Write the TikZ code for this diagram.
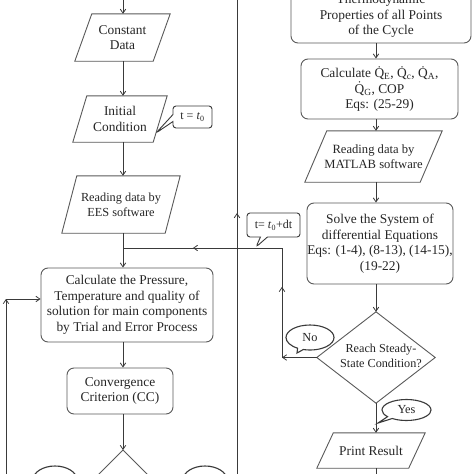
\documentclass[tikz,border=0pt]{standalone}
\usepackage{fontspec}
\setmainfont{Liberation Serif}
\usetikzlibrary{arrows.meta,shapes.callouts,shapes.geometric,decorations.markings,calc}
\definecolor{lnc}{HTML}{3A3A3A}
\definecolor{bxc}{HTML}{5A5A5A}
\definecolor{txc}{HTML}{262626}
\newcommand\pgram[2]{\draw[bxl] ([xshift=-#2]#1.south west) -- ([xshift=#2]#1.north west) -- ([xshift=#2]#1.north east) -- ([xshift=-#2]#1.south east) -- cycle;}
\begin{document}
\begin{tikzpicture}[x=1pt,y=-1pt,
 bxl/.style={draw=bxc, line width=0.9pt},
 ln/.style={draw=lnc, line width=0.8pt},
 arr/.style={ln, -{Straight Barb[length=4pt,width=5.5pt]}},
 midarr/.style={ln, postaction={decorate}, decoration={markings, mark=at position #1 with {\arrow{Straight Barb[length=4pt,width=5.5pt]}}}},
 txt/.style={align=center, font=\fontsize{13.4}{15.5}\selectfont, text=txc, inner sep=0pt},
 smalltxt/.style={font=\fontsize{12.3}{15}\selectfont},
 rbox/.style={txt, bxl, rounded corners=7pt},
 rcall/.style={rectangle callout, draw=lnc, line width=0.9pt, rounded corners=3pt, txt, font=\fontsize{12}{14}\selectfont},
 ecall/.style={ellipse callout, draw=lnc, line width=1.1pt, txt, font=\fontsize{12.3}{14}\selectfont},
]
\useasboundingbox (0,0) rectangle (474,474);
\fill[white] (0,0) rectangle (474,474);
\clip (0,0) rectangle (474,474);

\coordinate (colL) at (123,0);
\coordinate (colR) at (376,0);

% left column
\node[txt, minimum width=78pt, minimum height=47pt] (cd) at (122.5,37.5) {Constant\\Data};
\pgram{cd}{8.5pt}
\node[txt, minimum width=80pt, minimum height=46pt] (ic) at (120,119) {Initial\\Condition};
\pgram{ic}{7pt}
\node[txt, smalltxt, minimum width=103pt, minimum height=57pt] (ees) at (121,204.5) {Reading data by\\EES software};
\pgram{ees}{7.5pt}
\node[rbox, minimum width=172pt, minimum height=74pt] (calc) at (127,305) {Calculate the Pressure,\\Temperature and quality of\\solution for main components\\by Trial and Error Process};
\node[rbox, minimum width=106pt, minimum height=46pt] (conv) at (120,391) {Convergence\\Criterion (CC)};
\coordinate (dtop) at (123,450);
\coordinate (dl) at (96,477);
\coordinate (dr) at (150,477);
\draw[bxl] (dl) -- (dtop) -- (dr);
\node[draw=lnc, line width=1.1pt, ellipse, minimum width=44pt, minimum height=28pt] (e1) at (55,480) {};
\node[draw=lnc, line width=1.1pt, ellipse, minimum width=44pt, minimum height=28pt] (e2) at (205,480) {};

% right column
\node[rbox, minimum width=180pt, minimum height=54pt] (thermo) at (381,16) {Thermodynamic\\Properties of all Points\\of the Cycle};
\node[rbox, minimum width=157pt, minimum height=60pt] (calcq) at (379.5,89) {Calculate \.{Q}\textsubscript{E}, \.{Q}\textsubscript{c}, \.{Q}\textsubscript{A},\\\.{Q}\textsubscript{G}, COP\\Eqs: (25-29)};
\node[txt, font=\fontsize{12.6}{15}\selectfont, minimum width=115pt, minimum height=51pt] (matlab) at (373.5,156.5) {Reading data by\\MATLAB software};
\pgram{matlab}{11pt}
\node[rbox, minimum width=146pt, minimum height=81pt] (solve) at (380,243.5) {Solve the System of\\differential Equations\\Eqs: (1-4), (8-13), (14-15),\\(19-22)};
\node[minimum width=118pt, minimum height=91pt, inner sep=0pt] (dia) at (376,357.5) {};
\draw[bxl] (dia.north) -- (dia.east) -- (dia.south) -- (dia.west) -- cycle;
\node[txt, font=\fontsize{12.2}{15}\selectfont] (diat) at (381,356) {Reach Steady-\\State Condition?};
\node[txt, minimum width=91.5pt, minimum height=35pt] (print) at (371,450.5) {Print Result};
\pgram{print}{8.25pt}
\coordinate (pend) at (376,476);

% connectors left
\draw[arr] (colL) -- (colL |- cd.north);
\draw[arr] (colL |- cd.south) -- (colL |- ic.north);
\draw[arr] (colL |- ic.south) -- (colL |- ees.north);
\draw[arr] (colL |- ees.south) -- (colL |- calc.north);
\draw[arr] (colL |- calc.south) -- (colL |- conv.north);
\draw[arr] (colL |- conv.south) -- (dtop);

% connectors right
\draw[arr] (colR |- thermo.south) -- (colR |- calcq.north);
\draw[arr] (colR |- calcq.south) -- (colR |- matlab.north);
\draw[arr] (colR |- matlab.south) -- (colR |- solve.north);
\draw[arr] (colR |- solve.south) -- (dia.north);
\draw[arr] (dia.south) -- (colR |- print.north);
\draw[ln] (colR |- print.south) -- (pend);

% No loop
\coordinate (nc) at (282,357.5);
\coordinate (nt) at (282,248);
\draw[arr] (dia.west) -- (nc);
\draw[midarr=0.645] (nc) -- (nt);
\draw[midarr=0.56] (nt) -- (colL |- nt);

% long vertical line
\coordinate (vb) at (237,476);
\coordinate (vt) at (237,-2);
\draw[midarr=0.55] (vb) -- (vt);

% left return line
\coordinate (lb) at (6,476);
\coordinate (lt) at (6,299);
\draw[arr] (lb) -- (lt);
\draw[arr] (lt) -- (lt -| calc.west);

% callouts
\node[rcall, minimum width=39pt, minimum height=22pt, callout absolute pointer={(156,133)}, callout pointer width=7pt] (c1) at (192.5,117) {t = \textit{t}\textsubscript{0}};
\node[rcall, minimum width=53pt, minimum height=24pt, callout absolute pointer={(256,247)}, callout pointer width=7pt] (c2) at (273.5,225) {t= \textit{t}\textsubscript{0}+dt};
\node[ecall, minimum width=48pt, minimum height=25pt, callout absolute pointer={(297,353)}] (cno) at (310,337.5) {No};
\node[ecall, minimum width=49pt, minimum height=21pt, callout absolute pointer={(378,423)}] (cyes) at (406.5,410) {Yes};
\end{tikzpicture}
\end{document}
